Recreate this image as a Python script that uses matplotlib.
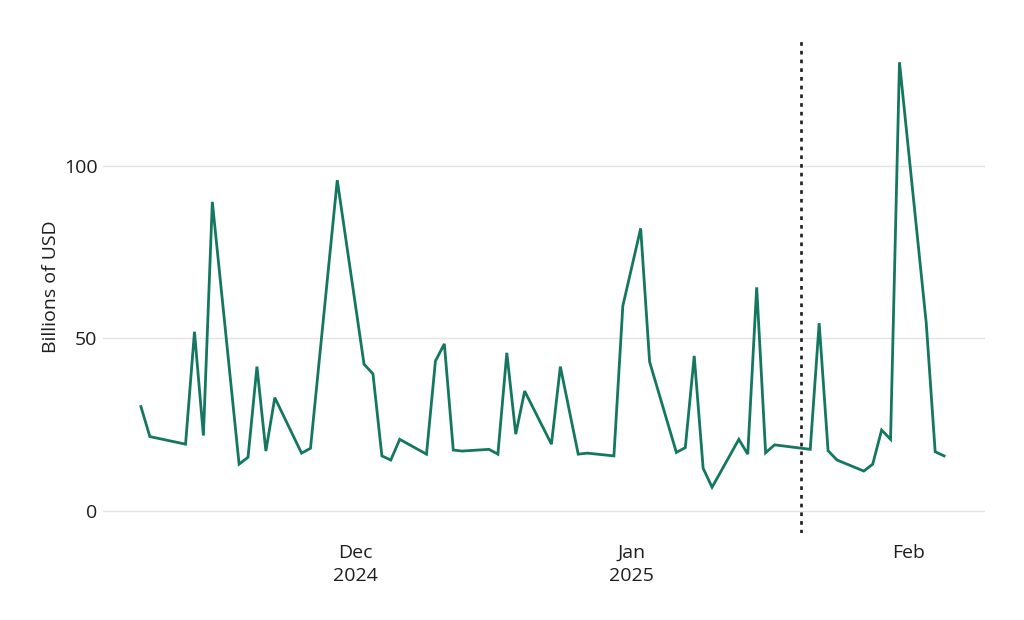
import matplotlib
matplotlib.use("Agg")
import matplotlib.pyplot as plt
import numpy as np
import pandas as pd

plt.rcParams["font.family"] = ["Open Sans", "DejaVu Sans"]

# daily values, billions of USD (business days)
dates = [
    "2024-11-07", "2024-11-08", "2024-11-12", "2024-11-13", "2024-11-14", "2024-11-15",
    "2024-11-18", "2024-11-19", "2024-11-20", "2024-11-21", "2024-11-22",
    "2024-11-25", "2024-11-26", "2024-11-29",
    "2024-12-02", "2024-12-03", "2024-12-04", "2024-12-05", "2024-12-06",
    "2024-12-09", "2024-12-10", "2024-12-11", "2024-12-12", "2024-12-13",
    "2024-12-16", "2024-12-17", "2024-12-18", "2024-12-19", "2024-12-20",
    "2024-12-23", "2024-12-24", "2024-12-26", "2024-12-27",
    "2024-12-30", "2024-12-31", "2025-01-02", "2025-01-03",
    "2025-01-06", "2025-01-07", "2025-01-08", "2025-01-09", "2025-01-10",
    "2025-01-13", "2025-01-14", "2025-01-15", "2025-01-16", "2025-01-17",
    "2025-01-21", "2025-01-22", "2025-01-23", "2025-01-24",
    "2025-01-27", "2025-01-28", "2025-01-29", "2025-01-30", "2025-01-31",
    "2025-02-03", "2025-02-04", "2025-02-05",
]
values = [
    30.2, 21.5, 19.3, 51.9, 21.8, 89.6,
    13.5, 15.5, 41.8, 17.3, 32.8,
    16.7, 18.1, 95.9,
    42.5, 39.7, 15.9, 14.7, 20.7,
    16.4, 43.4, 48.4, 17.6, 17.3,
    17.8, 16.4, 45.8, 22.2, 34.7,
    19.3, 41.8, 16.4, 16.7,
    15.9, 59.4, 81.9, 43.2,
    16.9, 18.3, 44.9, 12.3, 6.8,
    20.7, 16.4, 64.8, 16.8, 19.1,
    17.8, 54.4, 17.4, 14.7,
    11.5, 13.5, 23.4, 20.7, 130.1,
    54.4, 17.1, 15.9,
]
event_date = "2025-01-20"
yticks = [0, 50, 100]
xtick_dates = ["2024-12-01", "2025-01-01", "2025-02-01"]
xtick_labels = ["Dec\n2024", "Jan\n2025", "Feb"]

x = pd.to_datetime(dates)

fig = plt.figure(figsize=(10.24, 6.2), dpi=100)
ax = fig.add_axes([103 / 1024, 1 - 533 / 620, (985 - 103) / 1024, (533 - 40) / 620])

ax.plot(x, values, color="#14775f", linewidth=2.0, solid_joinstyle="miter", zorder=3)
ax.axvline(pd.Timestamp(event_date), color="#1e1e1e", linestyle=(0, (1.4, 1.9)),
           linewidth=1.9, zorder=4)

ax.set_xlim(pd.Timestamp("2024-11-02 18:00"), pd.Timestamp("2025-02-09 14:00"))
ax.set_ylim(-6.47, 136.55)

ax.set_yticks(yticks)
ax.set_yticklabels([str(v) for v in yticks])
ax.grid(axis="y", color="#e3e3e3", linewidth=1.0)
ax.set_axisbelow(True)

ax.set_xticks(pd.to_datetime(xtick_dates))
ax.set_xticklabels(xtick_labels, linespacing=1.35)

for s in ax.spines.values():
    s.set_visible(False)
ax.tick_params(axis="both", length=0, labelsize=14, colors="#1e1e1e")
ax.tick_params(axis="y", pad=4)
ax.tick_params(axis="x", pad=8)
ax.set_ylabel("Billions of USD", fontsize=14, color="#1e1e1e", labelpad=3)

fig.savefig("out.png", dpi=100)
